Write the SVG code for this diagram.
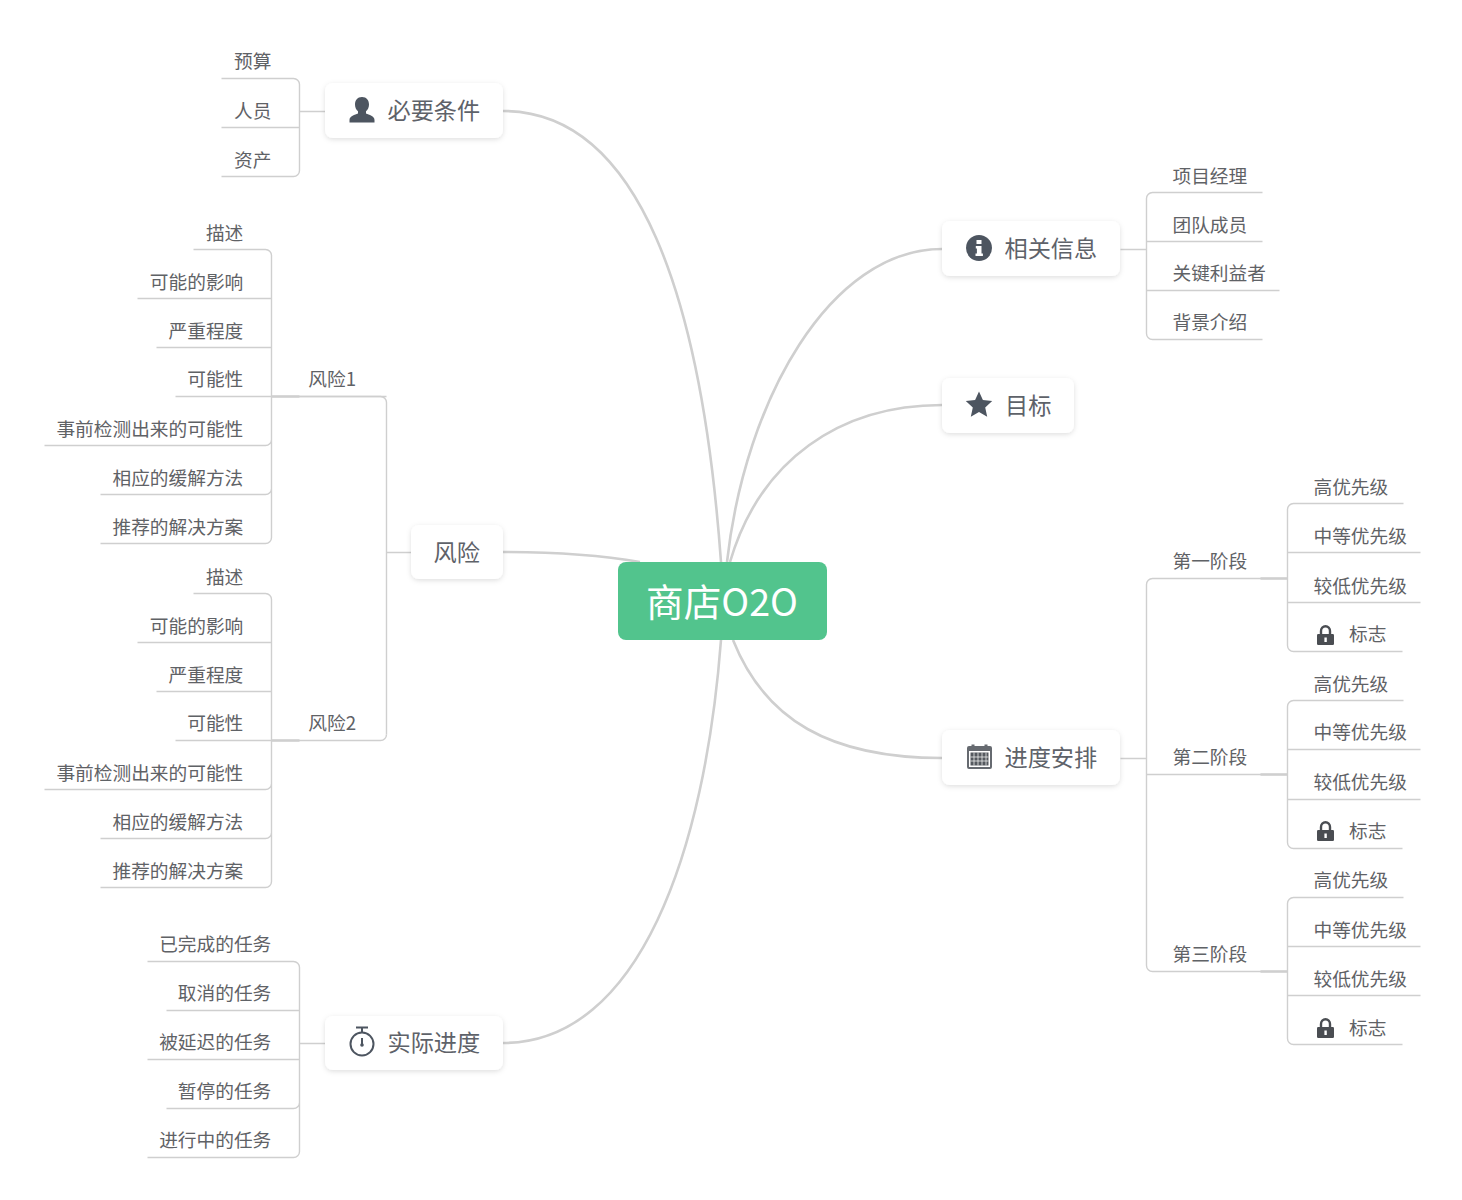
<svg xmlns="http://www.w3.org/2000/svg" width="1462" height="1200" viewBox="0 0 1462 1200">
<style>
text{font-family:"Noto Sans CJK SC","Noto Sans",sans-serif}
.l{font-size:18.7px;fill:#5f6266}
.e{text-anchor:end}
.m{font-size:23.2px;fill:#5e6269}
.b{fill:#fff;filter:url(#sh)}
.i{fill:#4d5560}
.c{fill:none;stroke:#cfcfcf;stroke-width:1.4}
.k{fill:none;stroke:#cfcfcf;stroke-width:2.6}
</style>
<defs>
<filter id="sh" x="-10%" y="-20%" width="120%" height="150%"><feDropShadow dx="0" dy="1.5" stdDeviation="2.5" flood-color="#000" flood-opacity="0.13"/></filter>
<g id="lock"><path d="M2.800 9V6a5.700 6 0 0 1 11.400 0V9h-2.400V6a3.300 3.600 0 0 0-6.600 0V9z" fill="#4a4d52"/><rect x="0" y="9" width="17" height="11" rx="1.200" fill="#4a4d52"/><rect x="7.400" y="12.500" width="2.400" height="4.500" fill="#fff"/></g>
</defs>
<rect width="1462" height="1200" fill="#fff"/>
<g id="connectors">
<path class="k" d="M503 111C640 111 702 300 721 562"/>
<path class="k" d="M503 552C560 552 600 555 640 562"/>
<path class="k" d="M503 1043C640 1043 705 850 721 640"/>
<path class="k" d="M942 249C830 249 745 400 727 562"/>
<path class="k" d="M942 405C840 405 760 460 730 562"/>
<path class="k" d="M942 758C830 758 765 720 733 640"/>
<g transform="translate(.5 .5)">
<path class="c" d="M221 78H293a6 6 0 0 1 6 6V170a6 6 0 0 1-6 6H221M221 127H299M299 111H325"/>
<path class="c" d="M193 249H265a6 6 0 0 1 6 6V537a6 6 0 0 1-6 6H100M137 298H271M156 347H271M175 396H386M44 445H265a6 6 0 0 0 6-6M100 494H265a6 6 0 0 0 6-6"/>
<path class="c" d="M193 593H265a6 6 0 0 1 6 6V881a6 6 0 0 1-6 6H100M137 642H271M156 691H271M175 740H380a6 6 0 0 0 6-6M44 789H265a6 6 0 0 0 6-6M100 838H265a6 6 0 0 0 6-6"/>
<path class="c" d="M299 396H380a6 6 0 0 1 6 6V734M386 552H411"/>
<path class="k" d="M271 396H299M271 740H299"/>
<path class="c" d="M147 961H293a6 6 0 0 1 6 6V1151a6 6 0 0 1-6 6H147M166 1010H299M147 1059H299M166 1108H293a6 6 0 0 0 6-6M299 1043H325"/>
<path class="c" d="M1262 192H1152a6 6 0 0 0-6 6V333a6 6 0 0 0 6 6H1262M1262 241H1146M1279 290H1146M1120 249H1146"/>
<path class="c" d="M1120 758H1146M1287 578H1152a6 6 0 0 0-6 6V965a6 6 0 0 0 6 6H1287M1146 774H1287"/>
<path class="c" d="M1403 503H1293a6 6 0 0 0-6 6V645a6 6 0 0 0 6 6H1402M1420 552H1287M1420 602H1287"/>
<path class="c" d="M1403 700H1293a6 6 0 0 0-6 6V842a6 6 0 0 0 6 6H1402M1420 749H1287M1420 799H1287"/>
<path class="c" d="M1403 897H1293a6 6 0 0 0-6 6V1038a6 6 0 0 0 6 6H1402M1420 946H1287M1420 995H1287"/>
<path class="k" d="M1260 578H1287M1260 774H1287M1260 971H1287"/>
</g>
</g>
<g id="root"><rect x="618" y="562" width="209" height="78" rx="8" fill="#52c48d"/><text x="722" y="615.500" text-anchor="middle" font-size="37.600" fill="#fff">商店O2O</text></g>
<g id="node-req"><rect class="b" x="325" y="83" width="178" height="55" rx="8"/>
<path class="i" d="M362 97c-4.600 0-7 3.300-7 7.500 0 3 1.200 5.300 3 6.700v2.300c-3 1.200-8.500 2.500-8.500 6.500v2.500h25v-2.500c0-4-5.500-5.300-8.500-6.500v-2.300c1.800-1.400 3-3.700 3-6.700 0-4.200-2.400-7.500-7-7.500z"/>
<text class="m" x="387.500" y="119">必要条件</text></g>
<g id="leaves-req"><text class="l" x="234" y="68">预算</text><text class="l" x="234" y="117.500">人员</text><text class="l" x="234" y="167">资产</text></g>
<g id="node-risk"><rect class="b" x="411" y="525" width="92" height="54" rx="8"/><text class="m" x="433.500" y="561">风险</text></g>
<g id="risk1" transform="translate(-.7 .4)"><text class="l" x="309" y="386">风险1</text>
<text class="l e" x="244" y="240">描述</text><text class="l e" x="244" y="289">可能的影响</text><text class="l e" x="244" y="338">严重程度</text><text class="l e" x="244" y="386">可能性</text><text class="l e" x="244" y="436">事前检测出来的可能性</text><text class="l e" x="244" y="485">相应的缓解方法</text><text class="l e" x="244" y="534">推荐的解决方案</text></g>
<g id="risk2" transform="translate(-.7 .4)"><text class="l" x="309" y="730">风险2</text>
<text class="l e" x="244" y="584">描述</text><text class="l e" x="244" y="633">可能的影响</text><text class="l e" x="244" y="682">严重程度</text><text class="l e" x="244" y="730">可能性</text><text class="l e" x="244" y="780">事前检测出来的可能性</text><text class="l e" x="244" y="829">相应的缓解方法</text><text class="l e" x="244" y="878">推荐的解决方案</text></g>
<g id="node-progress"><rect class="b" x="325" y="1016" width="178" height="54" rx="8"/>
<g fill="none" stroke="#4d5560" stroke-width="2"><circle cx="362" cy="1044" r="11.500"/><path d="M356 1027.500H368M362 1028V1032M362 1038V1045"/></g><circle class="i" cx="362" cy="1045" r="1.800"/>
<text class="m" x="387.500" y="1050.500">实际进度</text></g>
<g id="leaves-progress" transform="translate(-.7 .4)"><text class="l e" x="272" y="951">已完成的任务</text><text class="l e" x="272" y="1000">取消的任务</text><text class="l e" x="272" y="1049">被延迟的任务</text><text class="l e" x="272" y="1098">暂停的任务</text><text class="l e" x="272" y="1147">进行中的任务</text></g>
<g id="node-info"><rect class="b" x="942" y="221" width="178" height="55" rx="8"/>
<circle class="i" cx="979" cy="248" r="13"/><path d="M976.500 240h5v4h-5zM975.800 246h5.700v7.500h1.400v2.500h-7.400v-2.500h1.400v-5h-1.100z" fill="#fff"/>
<text class="m" x="1004.500" y="257">相关信息</text></g>
<g id="leaves-info" transform="translate(-.5 0)"><text class="l" x="1173" y="183">项目经理</text><text class="l" x="1173" y="231.500">团队成员</text><text class="l" x="1173" y="280">关键利益者</text><text class="l" x="1173" y="329">背景介绍</text></g>
<g id="node-goal"><rect class="b" x="942" y="378" width="132" height="55" rx="8"/>
<path class="i" d="M979 391.500l3.900 8.600 9.300 1-7 6.300 2 9.300-8.200-4.800-8.200 4.800 2-9.300-7-6.300 9.300-1z"/>
<text class="m" x="1005" y="414">目标</text></g>
<g id="node-schedule"><rect class="b" x="942" y="730" width="178" height="55" rx="8"/>
<path fill="#666a70" fill-rule="evenodd" d="M967 748a2 2 0 0 1 2-2h2.500v-1.500h3V746h10v-1.500h3V746H990a2 2 0 0 1 2 2v19a2 2 0 0 1-2 2H969a2 2 0 0 1-2-2zM969 751V767H990V751z"/>
<path fill="#55595f" d="M970.500 752.500h18v13h-18z"/>
<path stroke="#fff" stroke-width=".7" d="M974 752.500v13M978 752.500v13M982 752.500v13M986 752.500v13M970.500 757h18M970.500 761h18"/>
<text class="m" x="1004.500" y="766">进度安排</text></g>
<g id="stage1" transform="translate(-.5 0)"><text class="l" x="1173" y="568">第一阶段</text>
<text class="l" x="1314" y="494">高优先级</text><text class="l" x="1314" y="543">中等优先级</text><text class="l" x="1314" y="592.500">较低优先级</text><use href="#lock" x="1317.500" y="625"/><text class="l" x="1349.500" y="641">标志</text></g>
<g id="stage2" transform="translate(-.5 0)"><text class="l" x="1173" y="764">第二阶段</text>
<text class="l" x="1314" y="690.500">高优先级</text><text class="l" x="1314" y="739">中等优先级</text><text class="l" x="1314" y="789">较低优先级</text><use href="#lock" x="1317.500" y="821"/><text class="l" x="1349.500" y="837.500">标志</text></g>
<g id="stage3" transform="translate(-.5 0)"><text class="l" x="1173" y="960.500">第三阶段</text>
<text class="l" x="1314" y="887">高优先级</text><text class="l" x="1314" y="936.500">中等优先级</text><text class="l" x="1314" y="985.500">较低优先级</text><use href="#lock" x="1317.500" y="1018"/><text class="l" x="1349.500" y="1034.500">标志</text></g>
</svg>
